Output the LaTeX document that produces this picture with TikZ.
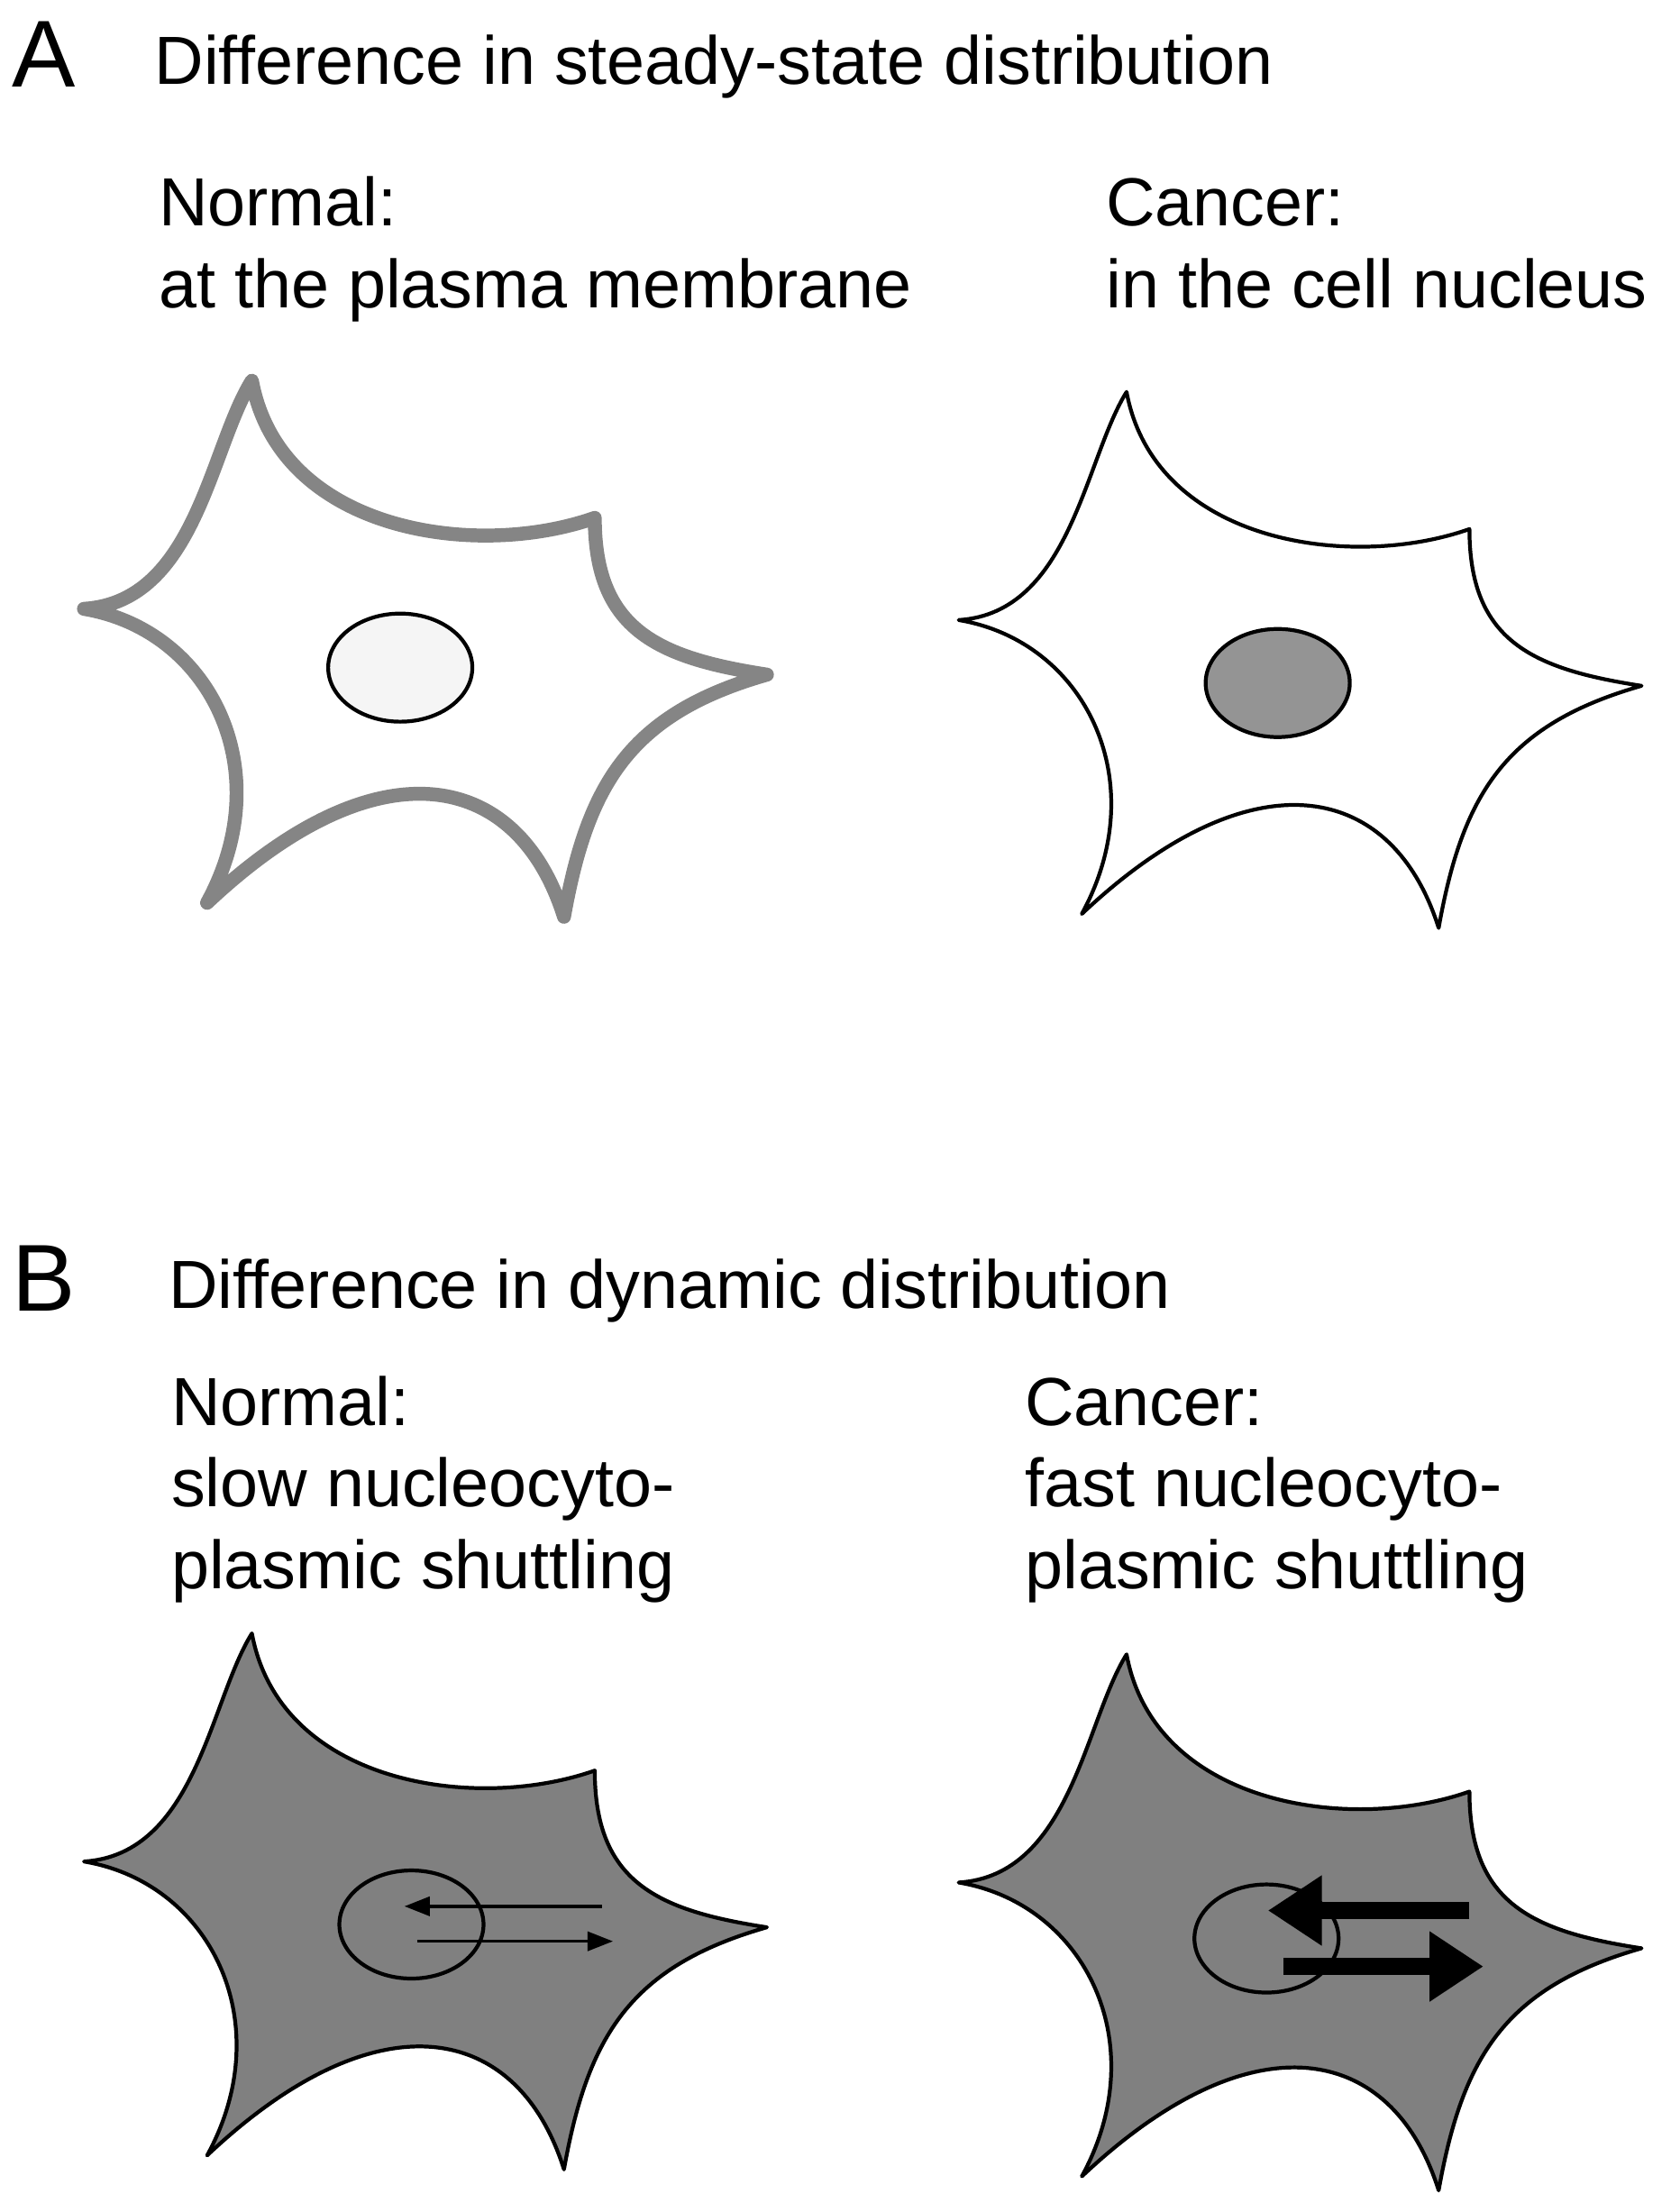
\documentclass[tikz,border=0pt]{standalone}
\usepackage{fontspec}
\setmainfont{Liberation Sans}
\usetikzlibrary{arrows.meta,shapes.geometric}

\tikzset{
    label text/.style={anchor=base west,inner sep=0pt,align=left,
        font=\fontsize{21.5pt}{25.8pt}\selectfont},
    panel/.style={anchor=base west,inner sep=0pt,
        font=\fontsize{30pt}{30pt}\selectfont},
    nucleus/.style={draw,ellipse,inner sep=0pt,line width=1.2pt,
        minimum width=1.6cm,minimum height=1.2cm},
    pics/cell/.style={code={
        \coordinate (c) at (0,0);
        \draw [line join=round,#1]
            (-120,-198) .. controls (-100,-90) and (40,-70) ..
            (125,-100) .. controls (125,-20) and (170,0) ..
            (248,12) .. controls (150,40) and (120,90) ..
            (103,185) .. controls (70,80) and (-30,60) ..
            (-152,175) .. controls (-100,80) and (-150,-20) ..
            (-240,-35) .. controls (-160,-40) and (-150,-150) ..
            cycle;
    }}
}

\begin{document}
\begin{tikzpicture}[x=0.01553cm,y=-0.01553cm]
\useasboundingbox (0,0) rectangle (1200,1574);

% panel A
\node [panel] (labA) at (8,62) {A};
\node [label text] (titleA) at (110,60) {Difference in steady-state distribution};
\node [label text] (normA) at (113,220) {Normal:\\at the plasma membrane};
\node [label text] (cancA) at (790,220) {Cancer:\\in the cell nucleus};

\pic at (300,470) {cell={draw=black!48,line width=4.4pt,fill=white}};
\node [nucleus,fill=black!4] (nucA1) at (286,477) {};
\pic at (925,478) {cell={draw=black,line width=1.2pt,fill=white}};
\node [nucleus,fill=black!42] (nucA2) at (913,488) {};

% panel B
\node [panel] (labB) at (8,937) {B};
\node [label text] (titleB) at (120,935) {Difference in dynamic distribution};
\node [label text] (normB) at (122,1135) {Normal:\\slow nucleocyto-\\plasmic shuttling};
\node [label text] (cancB) at (732,1135) {Cancer:\\fast nucleocyto-\\plasmic shuttling};

\pic at (300,1365) {cell={draw=black,line width=1.2pt,fill=black!50}};
\node [nucleus] (nucB1) at (294,1375) {};
\pic at (925,1380) {cell={draw=black,line width=1.2pt,fill=black!50}};
\node [nucleus] (nucB2) at (905,1385) {};

\coordinate (s1) at (430,1362);
\coordinate (e1) at (289,1362);
\coordinate (s2) at (298,1387);
\coordinate (e2) at (438,1387);
\draw [line width=1pt,-{Triangle[length=8pt,width=6pt]}] (s1) -- (e1);
\draw [line width=1pt,-{Triangle[length=8pt,width=6pt]}] (s2) -- (e2);

\coordinate (s3) at (1050,1365);
\coordinate (e3) at (906,1365);
\coordinate (s4) at (917,1405);
\coordinate (e4) at (1060,1405);
\draw [line width=5.5pt,-{Triangle[length=17pt,width=21pt]}] (s3) -- (e3);
\draw [line width=5.5pt,-{Triangle[length=17pt,width=21pt]}] (s4) -- (e4);
\end{tikzpicture}
\end{document}
